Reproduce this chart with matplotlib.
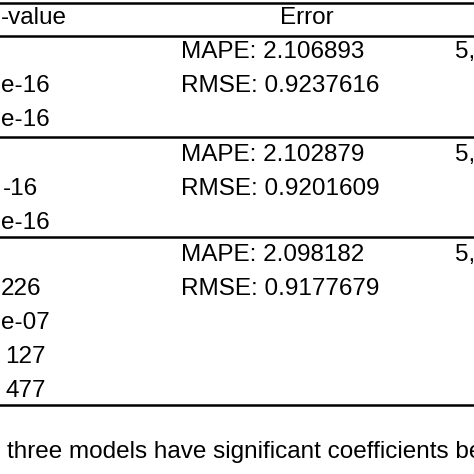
import matplotlib.pyplot as plt

plt.rcParams['font.family'] = ['Liberation Sans', 'DejaVu Sans']

header_left = '-value'
header_mid = 'Error'
pvals = [['', 'e-16', 'e-16'],
         ['', '-16', 'e-16'],
         ['', '226', 'e-07', '127', '477']]
errors = [['MAPE: 2.106893', 'RMSE: 0.9237616'],
          ['MAPE: 2.102879', 'RMSE: 0.9201609'],
          ['MAPE: 2.098182', 'RMSE: 0.9177679']]
right_col = ['5,', '5,', '5,']
caption = 'three models have significant coefficients be'

# layout in pixel coords
block_top = [52, 155, 255]
row_h = 34
rules = [3, 36, 137, 237, 405]

fig = plt.figure(figsize=(4.74, 4.74), dpi=100)
ax = fig.add_axes([0, 0, 1, 1])
ax.set_xlim(0, 474)
ax.set_ylim(474, 0)
ax.axis('off')

fs = 17.5
for y in rules:
    ax.axhline(y, color='black', lw=1.8)

ax.text(1, 18, header_left, fontsize=fs, va='center', ha='left')
ax.text(307, 18, header_mid, fontsize=fs, va='center', ha='center')

pv_x = [[0, 1, 1], [0, 3, 1], [0, 1, 1, 5, 6]]
for b in range(3):
    y0 = block_top[b]
    for i, s in enumerate(pvals[b]):
        if s:
            ax.text(pv_x[b][i], y0 + i * row_h, s, fontsize=fs, va='center', ha='left')
    for i, s in enumerate(errors[b]):
        ax.text(181, y0 + i * row_h, s, fontsize=fs, va='center', ha='left')
    ax.text(455, y0, right_col[b], fontsize=fs, va='center', ha='left')

ax.text(7, 452, caption, fontsize=fs, va='center', ha='left')

fig.savefig('out.png', dpi=100)
